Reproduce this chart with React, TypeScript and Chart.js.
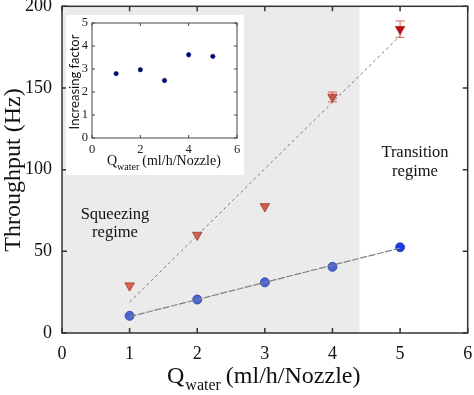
import React, { useEffect, useRef } from "react";
import { Chart, registerables } from "chart.js";
Chart.register(...registerables);

// ---- main chart data ----
const qWater = [1, 2, 3, 4, 5];
const blueThroughput = [10.5, 20.5, 31, 40.5, 52.5];
const blueErr = [0, 0, 0, 0, 1.2];
const redThroughput = [29, 60, 77.5, 144.5, 186];
const redErr = [0, 0, 0, 3, 5];
const blueFitX = [1, 5];
const blueFitY = [10, 52];
const redFitX = [1, 5];
const redFitY = [19, 182];
const regimeBoundary = 4.4;
const xTickValues = [0, 1, 2, 3, 4, 5, 6];
const yTickValues = [0, 50, 100, 150, 200];
const blueColors = ["#4a64d4", "#4a64d4", "#4a64d4", "#4a64d4", "#1a3ae6"];
const redColors = ["#dc6650", "#d2604c", "#d0604c", "#c45a4e", "#c40a0a"];

// ---- inset data ----
const insetQ = [1, 2, 3, 4, 5];
const insetFactor = [2.8, 2.97, 2.5, 3.62, 3.55];
const insetErr = [0.08, 0.07, 0.1, 0.13, 0.1];
const insetXTicks = [0, 2, 4, 6];
const insetYTicks = [0, 1, 2, 3, 4, 5];

const SERIF = "'Liberation Serif', 'Times New Roman', serif";
const SANS = "Lato, 'Open Sans', sans-serif";

function drawFrameTicks(chart: any, xt: number[], yt: number[], len: number, lw: number, color: string) {
  const { ctx, chartArea: a, scales } = chart;
  const x = scales.x, y = scales.y;
  ctx.save();
  ctx.strokeStyle = color;
  ctx.lineWidth = lw;
  ctx.strokeRect(a.left, a.top, a.right - a.left, a.bottom - a.top);
  ctx.beginPath();
  xt.forEach((v) => {
    const px = x.getPixelForValue(v);
    ctx.moveTo(px, a.bottom); ctx.lineTo(px, a.bottom - len);
    ctx.moveTo(px, a.top); ctx.lineTo(px, a.top + len);
  });
  yt.forEach((v) => {
    const py = y.getPixelForValue(v);
    ctx.moveTo(a.left, py); ctx.lineTo(a.left + len, py);
    ctx.moveTo(a.right, py); ctx.lineTo(a.right - len, py);
  });
  ctx.stroke();
  ctx.restore();
}

function drawErrBars(chart: any, xs: number[], ys: number[], errs: number[], color: string, cap: number, lw: number) {
  const { ctx, scales } = chart;
  ctx.save();
  ctx.strokeStyle = color;
  ctx.lineWidth = lw;
  xs.forEach((xv, i) => {
    if (!errs[i]) return;
    const px = scales.x.getPixelForValue(xv);
    const p1 = scales.y.getPixelForValue(ys[i] - errs[i]);
    const p2 = scales.y.getPixelForValue(ys[i] + errs[i]);
    ctx.beginPath();
    ctx.moveTo(px, p1); ctx.lineTo(px, p2);
    ctx.moveTo(px - cap, p1); ctx.lineTo(px + cap, p1);
    ctx.moveTo(px - cap, p2); ctx.lineTo(px + cap, p2);
    ctx.stroke();
  });
  ctx.restore();
}

const mainPlugin = {
  id: "mainDecor",
  beforeDatasetsDraw(chart: any) {
    const { ctx, chartArea: a, scales } = chart;
    ctx.save();
    ctx.fillStyle = "#ebebeb";
    const xb = scales.x.getPixelForValue(regimeBoundary);
    ctx.fillRect(a.left, a.top, xb - a.left, a.bottom - a.top);
    ctx.restore();
    drawErrBars(chart, qWater, redThroughput, redErr, "#e0604a", 4.5, 1);
    drawErrBars(chart, qWater, blueThroughput, blueErr, "#2040e0", 3, 1);
  },
  afterDraw(chart: any) {
    const { ctx } = chart;
    drawFrameTicks(chart, xTickValues, yTickValues, 5, 1.5, "#333");
    ctx.save();
    ctx.fillStyle = "#111";
    ctx.textAlign = "center";
    ctx.textBaseline = "middle";
    ctx.font = `16.5px ${SERIF}`;
    ctx.fillText("Squeezing", 115, 215);
    ctx.fillText("regime", 115, 233);
    ctx.fillText("Transition", 415, 153);
    ctx.fillText("regime", 415, 172);
    // y title
    ctx.save();
    ctx.translate(14, 170);
    ctx.rotate(-Math.PI / 2);
    ctx.font = `24px ${SERIF}`;
    ctx.fillText("Throughput (Hz)", 0, 0);
    ctx.restore();
    // x title with subscript
    ctx.textAlign = "left";
    ctx.textBaseline = "alphabetic";
    ctx.font = `24px ${SERIF}`;
    let cx = 167;
    ctx.fillText("Q", cx, 383);
    cx += ctx.measureText("Q").width + 1;
    ctx.font = `16px ${SERIF}`;
    ctx.fillText("water", cx, 390);
    cx += ctx.measureText("water").width + 5;
    ctx.font = `24px ${SERIF}`;
    ctx.fillText("(ml/h/Nozzle)", cx, 383);
    ctx.restore();
  },
};

const insetPlugin = {
  id: "insetDecor",
  beforeDraw(chart: any) {
    const { ctx, width, height } = chart;
    ctx.save();
    ctx.fillStyle = "#ffffff";
    ctx.fillRect(0, 0, width, height);
    ctx.restore();
  },
  beforeDatasetsDraw(chart: any) {
    drawErrBars(chart, insetQ, insetFactor, insetErr, "#7f9cff", 0, 1.2);
  },
  afterDraw(chart: any) {
    const { ctx } = chart;
    drawFrameTicks(chart, insetXTicks, insetYTicks, 3, 1, "#444");
    ctx.save();
    ctx.fillStyle = "#111";
    ctx.textAlign = "center";
    ctx.textBaseline = "middle";
    ctx.save();
    ctx.translate(9, 67);
    ctx.rotate(-Math.PI / 2);
    ctx.font = `13px ${SANS}`;
    ctx.fillText("Increasing factor", 0, 0);
    ctx.restore();
    ctx.textAlign = "left";
    ctx.textBaseline = "alphabetic";
    ctx.font = `14px ${SERIF}`;
    let cx = 41;
    ctx.fillText("Q", cx, 150);
    cx += ctx.measureText("Q").width;
    ctx.font = `10px ${SERIF}`;
    ctx.fillText("water", cx, 155);
    cx += ctx.measureText("water").width + 3;
    ctx.font = `14px ${SERIF}`;
    ctx.fillText("(ml/h/Nozzle)", cx, 150);
    ctx.restore();
  },
};

export default function App() {
  const mainRef = useRef<HTMLCanvasElement>(null);
  const insetRef = useRef<HTMLCanvasElement>(null);

  useEffect(() => {
    const main = new Chart(mainRef.current as HTMLCanvasElement, {
      type: "scatter",
      data: {
        datasets: [
          {
            type: "line",
            data: redFitX.map((v, i) => ({ x: v, y: redFitY[i] })),
            borderColor: "#777",
            borderWidth: 1,
            borderDash: [3, 3],
            pointRadius: 0,
            showLine: true,
          } as any,
          {
            type: "line",
            data: blueFitX.map((v, i) => ({ x: v, y: blueFitY[i] })),
            borderColor: "#808080",
            borderWidth: 1.2,
            borderDash: [7, 1.5],
            pointRadius: 0,
            showLine: true,
          } as any,
          {
            data: qWater.map((v, i) => ({ x: v, y: redThroughput[i] })),
            pointStyle: "triangle",
            rotation: 180,
            pointRadius: 5.5,
            backgroundColor: redColors,
            borderColor: "#a03030",
            borderWidth: 0.8,
          } as any,
          {
            data: qWater.map((v, i) => ({ x: v, y: blueThroughput[i] })),
            pointStyle: "circle",
            pointRadius: 4.5,
            backgroundColor: blueColors,
            borderColor: "#2a3ea0",
            borderWidth: 0.8,
          } as any,
        ],
      },
      options: {
        responsive: false,
        animation: false,
        events: [],
        layout: { padding: { top: 6, right: 5, left: 0, bottom: 0 } },
        plugins: { legend: { display: false }, tooltip: { enabled: false } },
        scales: {
          x: {
            type: "linear",
            min: 0,
            max: 6,
            afterBuildTicks: (s: any) => { s.ticks = xTickValues.map((v) => ({ value: v })); },
            grid: { display: false, drawTicks: false },
            border: { display: false },
            ticks: { padding: 10, color: "#111", font: { family: SERIF, size: 18 }, maxRotation: 0 },
            afterFit: (s: any) => { s.height = 62; s.paddingLeft = 0; s.paddingRight = 0; },
          },
          y: {
            type: "linear",
            min: 0,
            max: 200,
            afterBuildTicks: (s: any) => { s.ticks = yTickValues.map((v) => ({ value: v })); },
            grid: { display: false, drawTicks: false },
            border: { display: false },
            ticks: { padding: 10, color: "#111", font: { family: SERIF, size: 18 } },
            afterFit: (s: any) => { s.width = 62; s.paddingTop = 0; s.paddingBottom = 0; },
          },
        },
      } as any,
      plugins: [mainPlugin],
    });

    const inset = new Chart(insetRef.current as HTMLCanvasElement, {
      type: "scatter",
      data: {
        datasets: [
          {
            data: insetQ.map((v, i) => ({ x: v, y: insetFactor[i] })),
            pointStyle: "circle",
            pointRadius: 2.2,
            backgroundColor: "#000a6e",
            borderColor: "#000a6e",
            borderWidth: 0.5,
          } as any,
        ],
      },
      options: {
        responsive: false,
        animation: false,
        events: [],
        layout: { padding: { top: 8, right: 7, left: 0, bottom: 0 } },
        plugins: { legend: { display: false }, tooltip: { enabled: false } },
        scales: {
          x: {
            type: "linear",
            min: 0,
            max: 6,
            afterBuildTicks: (s: any) => { s.ticks = insetXTicks.map((v) => ({ value: v })); },
            grid: { display: false, drawTicks: false },
            border: { display: false },
            ticks: { padding: 4, color: "#222", font: { family: SERIF, size: 12.5 }, maxRotation: 0 },
            afterFit: (s: any) => { s.height = 37; s.paddingLeft = 0; s.paddingRight = 0; },
          },
          y: {
            type: "linear",
            min: 0,
            max: 5,
            afterBuildTicks: (s: any) => { s.ticks = insetYTicks.map((v) => ({ value: v })); },
            grid: { display: false, drawTicks: false },
            border: { display: false },
            ticks: { padding: 4, color: "#222", font: { family: SERIF, size: 12.5 } },
            afterFit: (s: any) => { s.width = 26; s.paddingTop = 0; s.paddingBottom = 0; },
          },
        },
      } as any,
      plugins: [insetPlugin],
    });

    return () => {
      main.destroy();
      inset.destroy();
    };
  }, []);

  return (
    <div style={{ position: "fixed", left: 0, top: 0, width: 474, height: 395, background: "#fff" }}>
      <canvas ref={mainRef} width={474} height={395} style={{ position: "absolute", left: 0, top: 0, display: "block" }} />
      <canvas ref={insetRef} width={178} height={160} style={{ position: "absolute", left: 66, top: 15, display: "block" }} />
    </div>
  );
}
